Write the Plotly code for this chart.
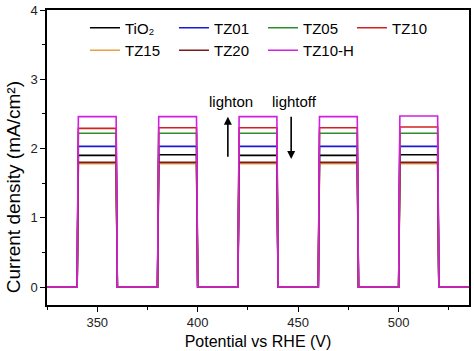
import plotly.graph_objects as go

# Light on/off cycle edges (V)
on_starts = [340, 380, 420, 460, 500]
on_ends = [360, 400, 440, 480, 520]
x_min, x_max = 325, 535

series_names = ["TiO₂", "TZ01", "TZ05", "TZ10", "TZ15", "TZ20", "TZ10-H"]
series_colors = ["#000000", "#1a1adb", "#2e8b2e", "#d62020", "#e8a040", "#7a1a1a", "#d020e0"]
# plateau current density per light-on cycle (mA/cm²)
tio2 = [1.90, 1.91, 1.90, 1.90, 1.91]
tz01 = [2.03, 2.03, 2.03, 2.03, 2.03]
tz05 = [2.22, 2.22, 2.22, 2.22, 2.22]
tz10 = [2.29, 2.30, 2.30, 2.30, 2.31]
tz15 = [1.78, 1.78, 1.78, 1.78, 1.78]
tz20 = [1.80, 1.80, 1.80, 1.80, 1.80]
tz10h = [2.46, 2.46, 2.46, 2.46, 2.47]
levels = [tio2, tz01, tz05, tz10, tz15, tz20, tz10h]


def pulse(vals):
    xs, ys = [x_min], [0.0]
    for s, e, v in zip(on_starts, on_ends, vals):
        xs += [s, s + 0.6, e - 0.6, e]
        ys += [0.0, v, v, 0.0]
    xs.append(x_max)
    ys.append(0.0)
    return xs, ys


fig = go.Figure()
for name, col, vals in zip(series_names, series_colors, levels):
    xs, ys = pulse(vals)
    fig.add_trace(go.Scatter(x=xs, y=ys, mode="lines", name=name,
                             line=dict(color=col, width=1.6)))

fig.add_annotation(x=415, y=2.46, ax=415, ay=1.86, xref="x", yref="y",
                   axref="x", ayref="y", text="", showarrow=True,
                   arrowhead=2, arrowsize=1, arrowwidth=1.6, arrowcolor="black")
fig.add_annotation(x=446.5, y=1.85, ax=446.5, ay=2.48, xref="x", yref="y",
                   axref="x", ayref="y", text="", showarrow=True,
                   arrowhead=2, arrowsize=1, arrowwidth=1.6, arrowcolor="black")
fig.add_annotation(x=416.5, y=2.68, text="lighton", showarrow=False,
                   font=dict(size=15, color="black"))
fig.add_annotation(x=448, y=2.68, text="lightoff", showarrow=False,
                   font=dict(size=15, color="black"))
# y-axis title (placed like the original, slightly below centre)
fig.add_annotation(x=-0.08, y=0.40, xref="paper", yref="paper",
                   text="Current density (mA/cm²)", textangle=-90, showarrow=False,
                   xanchor="center", yanchor="middle",
                   font=dict(size=19, color="black"))

axis_common = dict(showline=True, linecolor="black", linewidth=1.5, mirror=True,
                   ticks="outside", ticklen=5, tickwidth=1, tickcolor="black",
                   showgrid=False, zeroline=False,
                   tickfont=dict(size=13, color="#222"))

fig.update_xaxes(range=[x_min, x_max], tickvals=[350, 400, 450, 500],
                 minor=dict(tickvals=[325, 375, 425, 475, 525], ticks="outside",
                            ticklen=3, tickcolor="black"),
                 title=dict(text="Potential vs RHE (V)", font=dict(size=16, color="black"),
                            standoff=6),
                 **axis_common)
fig.update_yaxes(range=[-0.26, 4.0], tickvals=[0, 1, 2, 3, 4],
                 minor=dict(tickvals=[0.5, 1.5, 2.5, 3.5], ticks="outside",
                            ticklen=3, tickcolor="black"),
                 **axis_common)

fig.update_layout(
    width=474, height=351,
    margin=dict(l=47, r=3, t=8, b=46),
    paper_bgcolor="white", plot_bgcolor="white",
    font=dict(family="Liberation Sans, Arial, sans-serif", color="black"),
    showlegend=True,
    legend=dict(orientation="h", x=0.09, y=0.995, xanchor="left", yanchor="top",
                entrywidth=44, entrywidthmode="pixels", bgcolor="rgba(0,0,0,0)",
                font=dict(size=15), tracegroupgap=0, itemwidth=30),
)

fig.write_html("out.html")
